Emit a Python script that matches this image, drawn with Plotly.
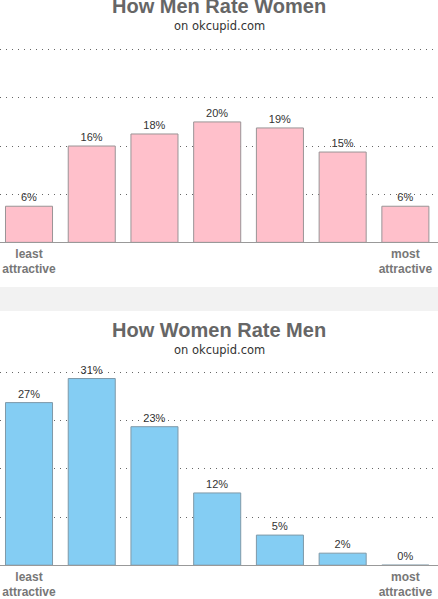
import plotly.graph_objects as go

# ratings 1 (least attractive) .. 7 (most attractive)
ratings = [1, 2, 3, 4, 5, 6, 7]
rating_labels = ["least<br>attractive", "", "", "", "", "", "most<br>attractive"]
men_rate_women = [6, 16, 18, 20, 19, 15, 6]
women_rate_men = [27, 31, 23, 12, 5, 2, 0]
grid_vals = [8, 16, 24, 32]

W, H = 438, 599
Y_TOP = 32.3           # a little headroom so the 32% gridline is drawn
PX_PER_PCT = 194 / 32  # vertical scale


def py(px):
    # pixel row from top -> paper fraction
    return (H - px) / H


fig = go.Figure()

fig.add_trace(go.Bar(
    x=ratings, y=men_rate_women,
    text=[f"{v}%" for v in men_rate_women],
    textposition="outside", cliponaxis=False,
    textfont=dict(family="Liberation Sans, Arial", size=11, color="#333"),
    marker=dict(color="#FFC0CB", line=dict(color="#9a9496", width=1)),
    xaxis="x", yaxis="y", hoverinfo="skip",
))
fig.add_trace(go.Bar(
    x=ratings, y=women_rate_men,
    text=[f"{v}%" for v in women_rate_men],
    textposition="outside", cliponaxis=False,
    textfont=dict(family="Liberation Sans, Arial", size=11, color="#333"),
    marker=dict(color="#84CDF3", line=dict(color="#7f99a8", width=1)),
    xaxis="x2", yaxis="y2", hoverinfo="skip",
))

xcommon = dict(
    range=[0.5375, 7.52], tickvals=ratings, ticktext=rating_labels,
    showgrid=False, zeroline=False, showline=True, linecolor="#999", linewidth=1,
    ticks="", fixedrange=True, ticklabeloverflow="allow",
    tickfont=dict(family="Liberation Sans, Arial", size=12, color="#777", weight="bold"),
)
ycommon = dict(
    range=[0, Y_TOP], tickvals=grid_vals, showticklabels=False,
    showgrid=True, gridcolor="#666", gridwidth=1, griddash="1px,5px",
    zeroline=False, fixedrange=True,
)

fig.update_layout(
    width=W, height=H,
    margin=dict(l=0, r=0, t=0, b=0),
    paper_bgcolor="white", plot_bgcolor="white",
    showlegend=False, bargap=0.25,
    xaxis=dict(domain=[0, 1], anchor="y", **xcommon),
    yaxis=dict(domain=[py(244), py(244 - Y_TOP * PX_PER_PCT)], anchor="x", **ycommon),
    xaxis2=dict(domain=[0, 1], anchor="y2", **xcommon),
    yaxis2=dict(domain=[py(569), py(569 - Y_TOP * PX_PER_PCT)], anchor="x2", **ycommon),
    shapes=[dict(type="rect", xref="paper", yref="paper", x0=0, x1=1,
                 y0=py(313), y1=py(289), fillcolor="#f2f2f2", line_width=0,
                 layer="below")],
)

titles = [("How Men Rate Women", 6, 26.5), ("How Women Rate Men", 332, 352)]
for title, ty, sy in titles:
    fig.add_annotation(text=f"<b>{title}</b>", x=0.5, y=py(ty), xref="paper", yref="paper",
                       showarrow=False, yanchor="middle",
                       font=dict(family="Liberation Sans, Arial", size=20, color="#666"))
    fig.add_annotation(text="on okcupid.com", x=0.5, y=py(sy), xref="paper", yref="paper",
                       showarrow=False, yanchor="middle",
                       font=dict(family="DejaVu Sans, Arial", size=11.5, color="#333"))

fig.write_html("out.html", config={"displayModeBar": False},
               post_script="document.body.style.margin='0';document.body.style.overflow='hidden';")
